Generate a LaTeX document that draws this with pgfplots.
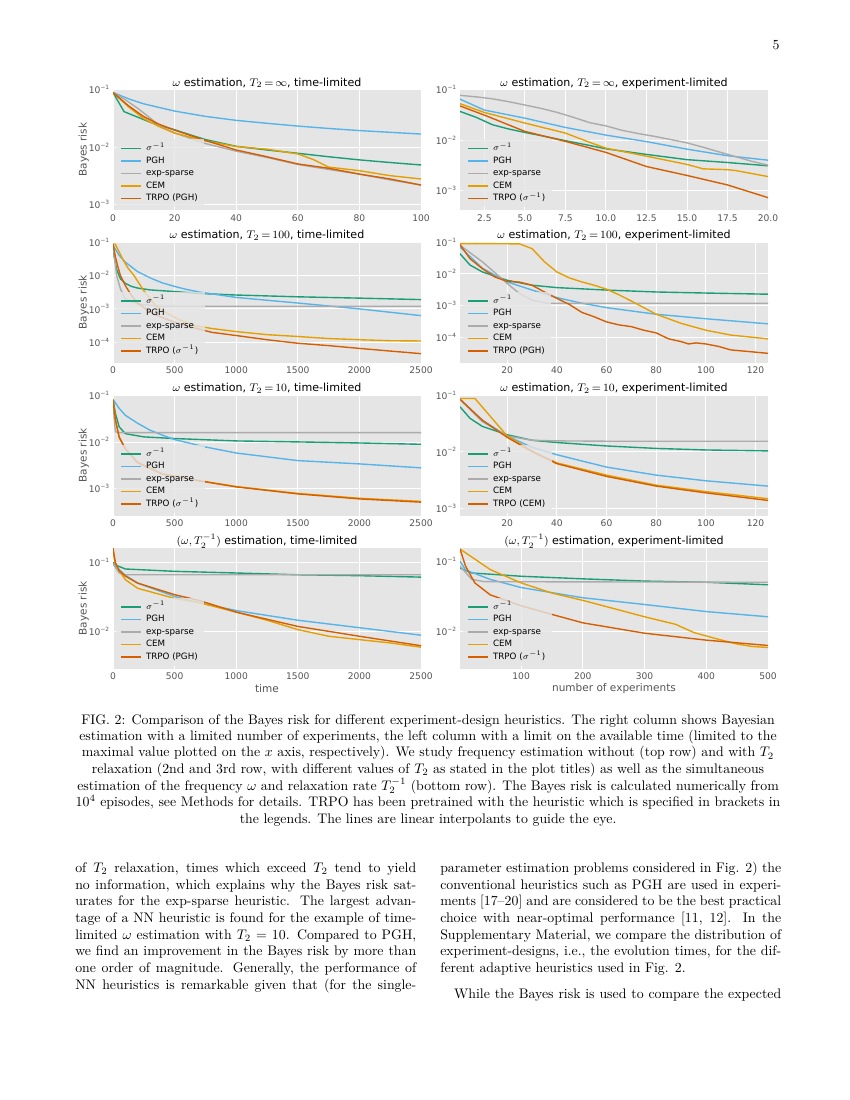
\documentclass[border=0pt]{standalone}
\usepackage{fontspec}
\usepackage{pgfplots}
\pgfplotsset{compat=1.18}
\newfontfamily\dejavu{DejaVu Sans}
\newcommand\tickfont{\dejavu\fontsize{6.6}{7.5}\selectfont}
\newcommand\legfont{\dejavu\fontsize{6.3}{7}\selectfont}
\newcommand\titlefont{\dejavu\fontsize{8}{9}\selectfont}
\newcommand\labfont{\dejavu\fontsize{7.6}{9}\selectfont}
\definecolor{ggbg}{HTML}{E5E5E5}
\definecolor{ticktext}{HTML}{555555}
\definecolor{sigc}{HTML}{1A9E76}
\definecolor{pghc}{HTML}{56B4E9}
\definecolor{expc}{HTML}{ABABAB}
\definecolor{cemc}{HTML}{E69F00}
\definecolor{trpoc}{HTML}{D55E00}
% tick label 10^-n in the sans font, with a small raised exponent
\newcommand\e[1]{10\raisebox{0.45em}{\fontsize{4.2}{5}\selectfont −#1}}
\pgfplotsset{
  gg/.style={
    scale only axis, width=221.76bp, height=86.76bp,
    anchor=north west,
    axis background/.style={fill=ggbg},
    axis line style={draw=none},
    major tick length=0pt, minor tick length=0pt,
    xmajorgrids, ymajorgrids,
    grid style={white, line width=0.6bp},
    tick label style={font=\tickfont, text=ticktext},
    xticklabel style={anchor=base, yshift=-8.2bp, inner sep=0pt},
    yticklabel style={anchor=east, xshift=-2.6bp, inner sep=0pt},
    title style={at={(0.5,1)}, anchor=base, yshift=-3.6bp, inner sep=0pt, font=\titlefont},
    label style={font=\labfont, text=ticktext},
    ylabel style={at={(axis description cs:-0.095,0.5)}, anchor=center},
    xlabel style={at={(axis description cs:0.5,-0.166)}, anchor=center},
    legend cell align=left,
    legend style={at={(0.01,0.017)}, anchor=south west, draw=none,
      fill=ggbg, fill opacity=0.8, text opacity=1, font=\legfont,
      inner xsep=3bp, inner ysep=2bp, row sep=0pt, column sep=1.5bp,
      nodes={inner sep=1.5bp, text height=4.6bp, text depth=1.4bp}},
    legend image code/.code={\draw[##1] (0bp,0bp) -- (14.4bp,0bp);},
    cycle list={{sigc},{pghc},{expc},{cemc},{trpoc}},
    every axis plot/.append style={mark=none, line width=1bp, line join=round},
  },
  tlim/.style={xmin=0, xmax=2500, xtick={0,500,1000,1500,2000,2500},
    xticklabels={0,500,1000,1500,2000,2500}},
  elim/.style={xmin=1, xmax=125, xtick={20,40,60,80,100,120},
    xticklabels={20,40,60,80,100,120}},
}
\begin{document}
\begin{tikzpicture}
\fill[white] (0,0) rectangle (612bp,-792bp);
\path[use as bounding box] (0,0) rectangle (612bp,-792bp);

% ---- row 1, left
\begin{semilogyaxis}[gg, at={(81.36bp,-64.3bp)},
  title={$\omega$ estimation, $T_2\,{=}\,\infty$, time-limited},
  ylabel={Bayes risk},
  xmin=0, xmax=100, ymin=8.2e-4, ymax=0.1,
  xtick={0,20,40,60,80,100}, xticklabels={0,20,40,60,80,100},
  ytick={1e-3,1e-2,1e-1}, yticklabels={\e{3},\e{2},\e{1}}]
\addplot coordinates {(0,0.088)(3.6,0.041)(8,0.033)(12,0.027)(16,0.023)(20,0.02)(25,0.0163)(30,0.0135)(40,0.0103)(50,0.0089)(60,0.0078)(70,0.0068)(80,0.006)(90,0.0054)(100,0.0049)};
\addplot coordinates {(0,0.088)(5.5,0.067)(10,0.056)(20,0.042)(30,0.034)(40,0.029)(50,0.0258)(60,0.0231)(70,0.021)(80,0.0193)(90,0.018)(100,0.0168)};
\addplot coordinates {(0,0.088)(4,0.066)(8,0.047)(12,0.032)(15,0.0236)(20,0.0176)(30,0.0115)(40,0.0085)(50,0.0066)(60,0.005)(70,0.0041)(80,0.0034)(90,0.0027)(100,0.0022)};
\addplot coordinates {(0,0.088)(5,0.05)(10,0.031)(15,0.0226)(20,0.0174)(30,0.0128)(40,0.0102)(50,0.0092)(60,0.0076)(65,0.0061)(70,0.0045)(80,0.0039)(90,0.0032)(100,0.0028)};
\addplot coordinates {(0,0.088)(5,0.052)(10,0.0336)(15,0.0248)(20,0.0196)(30,0.013)(40,0.0089)(50,0.0068)(60,0.0051)(70,0.0043)(80,0.0034)(90,0.0028)(100,0.0022)};
\legend{$\sigma^{-1}$, PGH, exp-sparse, CEM, TRPO (PGH)}
\end{semilogyaxis}

% ---- row 1, right
\begin{semilogyaxis}[gg, at={(331.2bp,-64.3bp)},
  title={$\omega$ estimation, $T_2\,{=}\,\infty$, experiment-limited},
  xmin=1, xmax=20, ymin=4.2e-4, ymax=0.1,
  xtick={2.5,5,7.5,10,12.5,15,17.5,20},
  xticklabels={2.5,5.0,7.5,10.0,12.5,15.0,17.5,20.0},
  ytick={1e-3,1e-2,1e-1}, yticklabels={\e{3},\e{2},\e{1}}]
\addplot coordinates {(1,0.0366)(2,0.028)(3,0.02)(4,0.0165)(5,0.0141)(6,0.0122)(7.5,0.0097)(9,0.0078)(10,0.0067)(12.5,0.0052)(15,0.0041)(17.5,0.0036)(20,0.0031)};
\addplot coordinates {(1,0.064)(2.5,0.039)(5,0.027)(7.5,0.0177)(10,0.0125)(12.5,0.0093)(15,0.0066)(17.5,0.0049)(20,0.004)};
\addplot coordinates {(1,0.076)(2,0.071)(3,0.065)(4,0.057)(5,0.049)(6,0.042)(7,0.035)(8,0.028)(9,0.022)(10,0.019)(11,0.0155)(12,0.0134)(13,0.0118)(14,0.0102)(15,0.0088)(16,0.0072)(17,0.0058)(18,0.0047)(19,0.0038)(20,0.0032)};
\addplot coordinates {(1,0.052)(2.5,0.035)(5,0.0216)(7.5,0.0137)(9,0.009)(10,0.0069)(12.5,0.0048)(15,0.0033)(16,0.0027)(17.5,0.0026)(18,0.0025)(20,0.0019)};
\addplot coordinates {(1,0.047)(2.5,0.031)(5,0.0148)(7.5,0.0094)(10,0.0057)(12.5,0.003)(15,0.002)(17.5,0.0013)(20,0.00073)};
\legend{$\sigma^{-1}$, PGH, exp-sparse, CEM, TRPO ($\sigma^{-1}$)}
\end{semilogyaxis}

% ---- row 2, left
\begin{semilogyaxis}[gg, tlim, at={(81.36bp,-174.24bp)},
  title={$\omega$ estimation, $T_2\,{=}\,100$, time-limited},
  ylabel={Bayes risk},
  ymin=2.5e-5, ymax=0.1,
  ytick={1e-4,1e-3,1e-2,1e-1}, yticklabels={\e{4},\e{3},\e{2},\e{1}}]
\addplot coordinates {(0,0.08)(10,0.035)(30,0.015)(60,0.008)(100,0.0058)(150,0.0047)(200,0.0042)(300,0.0037)(500,0.0033)(700,0.0029)(1000,0.0026)(1500,0.0023)(2000,0.0021)(2500,0.0019)};
\addplot coordinates {(0,0.08)(50,0.04)(100,0.025)(200,0.013)(300,0.0085)(400,0.006)(500,0.0047)(600,0.0038)(700,0.0032)(1000,0.0022)(1500,0.0015)(2000,0.001)(2500,0.00063)};
\addplot coordinates {(0,0.08)(30,0.01)(60,0.004)(100,0.002)(200,0.0014)(400,0.0012)(1000,0.0012)(2500,0.0012)};
\addplot coordinates {(15,0.09)(40,0.06)(80,0.03)(120,0.017)(170,0.01)(250,0.0035)(350,0.0012)(450,0.0007)(550,0.00045)(680,0.00031)(800,0.00026)(1000,0.00021)(1250,0.00017)(1500,0.00015)(1750,0.00013)(2000,0.00012)(2250,0.000112)(2500,0.00011)};
\addplot coordinates {(0,0.09)(20,0.035)(40,0.018)(60,0.01)(100,0.005)(150,0.0025)(200,0.0015)(300,0.0008)(400,0.00055)(500,0.0004)(680,0.00026)(800,0.0002)(1000,0.00016)(1250,0.00012)(1500,0.000094)(1750,0.00008)(2000,0.000066)(2250,0.000055)(2500,0.000046)};
\legend{$\sigma^{-1}$, PGH, exp-sparse, CEM, TRPO ($\sigma^{-1}$)}
\end{semilogyaxis}

% ---- row 2, right
\begin{semilogyaxis}[gg, elim, at={(331.2bp,-174.24bp)},
  title={$\omega$ estimation, $T_2\,{=}\,100$, experiment-limited},
  ymin=1.65e-5, ymax=0.1,
  ytick={1e-4,1e-3,1e-2,1e-1}, yticklabels={\e{4},\e{3},\e{2},\e{1}}]
\addplot coordinates {(1,0.043)(5,0.019)(10,0.0115)(20,0.0063)(30,0.0044)(40,0.0037)(60,0.0031)(80,0.0027)(100,0.0025)(125,0.0023)};
\addplot coordinates {(1,0.07)(10,0.015)(20,0.0056)(30,0.0031)(40,0.0018)(50,0.0012)(60,0.00087)(80,0.00054)(100,0.00039)(125,0.00027)};
\addplot coordinates {(1,0.079)(10,0.024)(20,0.005)(25,0.0024)(30,0.0015)(36,0.0012)(60,0.0012)(125,0.0012)};
\addplot coordinates {(1,0.089)(10,0.089)(20,0.088)(25,0.087)(30,0.062)(35,0.024)(40,0.0115)(45,0.0075)(50,0.0056)(55,0.0044)(60,0.0033)(65,0.0022)(70,0.0014)(80,0.00054)(90,0.00028)(100,0.00017)(110,0.00012)(125,0.000091)};
\addplot coordinates {(1,0.083)(5,0.03)(10,0.0146)(15,0.008)(20,0.0058)(25,0.0055)(30,0.0044)(35,0.0027)(40,0.0017)(45,0.0011)(50,0.00062)(55,0.00045)(60,0.00031)(65,0.00025)(70,0.00022)(75,0.00017)(80,0.00014)(85,0.000091)(90,0.000075)(93,0.000063)(96,0.000068)(100,0.000063)(105,0.000053)(110,0.000041)(118,0.000036)(125,0.000032)};
\legend{$\sigma^{-1}$, PGH, exp-sparse, CEM, TRPO (PGH)}
\end{semilogyaxis}

% ---- row 3, left
\begin{semilogyaxis}[gg, tlim, at={(81.36bp,-284.4bp)},
  title={$\omega$ estimation, $T_2\,{=}\,10$, time-limited},
  ylabel={Bayes risk},
  ymin=2.7e-4, ymax=0.1,
  ytick={1e-3,1e-2,1e-1}, yticklabels={\e{3},\e{2},\e{1}}]
\addplot coordinates {(0,0.08)(20,0.04)(50,0.021)(100,0.015)(250,0.0128)(500,0.0118)(1000,0.0105)(1500,0.01)(2000,0.0095)(2500,0.0089)};
\addplot coordinates {(0,0.08)(50,0.052)(100,0.037)(200,0.025)(300,0.0178)(400,0.014)(500,0.0112)(750,0.0078)(1000,0.0058)(1500,0.004)(2000,0.0034)(2500,0.0028)};
\addplot coordinates {(0,0.08)(10,0.03)(20,0.0165)(40,0.0158)(2500,0.0158)};
\addplot coordinates {(0,0.08)(20,0.029)(50,0.0128)(100,0.0072)(200,0.0037)(400,0.0021)(700,0.0015)(1000,0.00112)(1500,0.0008)(2000,0.00063)(2500,0.00054)};
\addplot coordinates {(0,0.08)(20,0.029)(50,0.0126)(100,0.0071)(200,0.0036)(400,0.00205)(700,0.00148)(1000,0.0011)(1500,0.00078)(2000,0.00061)(2500,0.00052)};
\legend{$\sigma^{-1}$, PGH, exp-sparse, CEM, TRPO ($\sigma^{-1}$)}
\end{semilogyaxis}

% ---- row 3, right
\begin{semilogyaxis}[gg, elim, at={(331.2bp,-284.4bp)},
  title={$\omega$ estimation, $T_2\,{=}\,10$, experiment-limited},
  ymin=7.6e-4, ymax=0.1,
  ytick={1e-3,1e-2,1e-1}, yticklabels={\e{3},\e{2},\e{1}}]
\addplot coordinates {(1,0.062)(5,0.039)(10,0.028)(20,0.02)(30,0.016)(40,0.0146)(60,0.0127)(80,0.0115)(100,0.0108)(125,0.0104)};
\addplot coordinates {(1,0.084)(10,0.036)(20,0.019)(30,0.012)(40,0.0089)(60,0.0054)(80,0.0039)(100,0.0031)(125,0.0025)};
\addplot coordinates {(1,0.084)(10,0.034)(20,0.019)(30,0.016)(40,0.0156)(60,0.0154)(125,0.0154)};
\addplot coordinates {(1,0.087)(7,0.087)(20,0.019)(30,0.0104)(40,0.0064)(60,0.0039)(80,0.0026)(100,0.002)(125,0.0015)};
\addplot coordinates {(1,0.084)(10,0.036)(20,0.018)(30,0.0101)(40,0.0062)(60,0.0037)(80,0.0025)(100,0.0019)(125,0.0014)};
\legend{$\sigma^{-1}$, PGH, exp-sparse, CEM, TRPO (CEM)}
\end{semilogyaxis}

% ---- row 4, left
\begin{semilogyaxis}[gg, tlim, at={(81.36bp,-394.56bp)},
  title={$(\omega, T_2^{-1})$ estimation, time-limited},
  ylabel={Bayes risk}, xlabel={time},
  ymin=2.9e-3, ymax=0.161,
  ytick={1e-2,1e-1}, yticklabels={\e{2},\e{1}}]
\addplot coordinates {(0,0.1)(10,0.093)(100,0.08)(500,0.074)(1000,0.07)(1500,0.066)(2000,0.064)(2500,0.061)};
\addplot coordinates {(0,0.095)(100,0.065)(200,0.05)(500,0.032)(700,0.026)(1000,0.02)(1500,0.0145)(2000,0.0113)(2500,0.0088)};
\addplot coordinates {(0,0.095)(50,0.07)(100,0.066)(2500,0.066)};
\addplot coordinates {(0,0.15)(15,0.1)(50,0.076)(100,0.056)(200,0.042)(500,0.03)(700,0.026)(1000,0.019)(1250,0.0145)(1500,0.0106)(1750,0.0085)(2000,0.0076)(2250,0.0068)(2500,0.0059)};
\addplot coordinates {(0,0.16)(20,0.098)(50,0.076)(100,0.063)(200,0.05)(500,0.034)(700,0.028)(1000,0.019)(1500,0.0118)(2000,0.0085)(2500,0.0062)};
\legend{$\sigma^{-1}$, PGH, exp-sparse, CEM, TRPO (PGH)}
\end{semilogyaxis}

% ---- row 4, right
\begin{semilogyaxis}[gg, at={(331.2bp,-394.56bp)},
  title={$(\omega, T_2^{-1})$ estimation, experiment-limited},
  xlabel={number of experiments},
  xmin=1, xmax=500, ymin=2.9e-3, ymax=0.155,
  xtick={100,200,300,400,500}, xticklabels={100,200,300,400,500},
  ytick={1e-2,1e-1}, yticklabels={\e{2},\e{1}}]
\addplot coordinates {(1,0.08)(20,0.068)(100,0.061)(200,0.056)(300,0.052)(400,0.05)(500,0.046)};
\addplot coordinates {(1,0.1)(10,0.075)(50,0.055)(100,0.042)(200,0.03)(300,0.024)(400,0.019)(500,0.016)};
\addplot coordinates {(1,0.085)(20,0.055)(40,0.051)(500,0.05)};
\addplot coordinates {(1,0.15)(50,0.076)(100,0.049)(150,0.035)(200,0.0275)(250,0.021)(300,0.016)(350,0.0125)(380,0.0095)(420,0.0076)(450,0.0065)(475,0.006)(500,0.0058)};
\addplot coordinates {(1,0.15)(10,0.085)(25,0.049)(50,0.033)(100,0.023)(150,0.0173)(200,0.0131)(300,0.0093)(400,0.0074)(500,0.0062)};
\legend{$\sigma^{-1}$, PGH, exp-sparse, CEM, TRPO ($\sigma^{-1}$)}
\end{semilogyaxis}

% ---- page text
\begin{scope}[every node/.style={inner sep=0pt}, font=\fontsize{10}{12}\selectfont]
\node[anchor=base] at (558.7bp,-35.3bp) {5};
\node[anchor=base] at (308.2bp,-521.3bp) {FIG. 2: Comparison of the Bayes risk for different experiment-design heuristics. The right column shows Bayesian};
\node[anchor=base] at (308.2bp,-533.2bp) {estimation with a limited number of experiments, the left column with a limit on the available time (limited to the};
\node[anchor=base] at (308.2bp,-545.0bp) {maximal value plotted on the $x$ axis, respectively). We study frequency estimation without (top row) and with $T_2$};
\node[anchor=base] at (308.2bp,-556.9bp) {relaxation (2nd and 3rd row, with different values of $T_2$ as stated in the plot titles) as well as the simultaneous};
\node[anchor=base] at (308.2bp,-568.8bp) {estimation of the frequency $\omega$ and relaxation rate $T_2^{-1}$ (bottom row). The Bayes risk is calculated numerically from};
\node[anchor=base] at (308.2bp,-580.7bp) {$10^4$ episodes, see Methods for details. TRPO has been pretrained with the heuristic which is specified in brackets in};
\node[anchor=base] at (308.2bp,-592.6bp) {the legends. The lines are linear interpolants to guide the eye.};
% left column
\node[anchor=base west] at (54bp,-628.2bp) {\makebox[245.5bp][s]{of $T_2$ relaxation, times which exceed $T_2$ tend to yield}};
\node[anchor=base west] at (54bp,-640.2bp) {\makebox[245.5bp][s]{no information, which explains why the Bayes risk sat-}};
\node[anchor=base west] at (54bp,-652.2bp) {\makebox[245.5bp][s]{urates for the exp-sparse heuristic. The largest advan-}};
\node[anchor=base west] at (54bp,-664.2bp) {\makebox[245.5bp][s]{tage of a NN heuristic is found for the example of time-}};
\node[anchor=base west] at (54bp,-676.2bp) {\makebox[245.5bp][s]{limited $\omega$ estimation with $T_2$ = 10. Compared to PGH,}};
\node[anchor=base west] at (54bp,-688.2bp) {\makebox[245.5bp][s]{we find an improvement in the Bayes risk by more than}};
\node[anchor=base west] at (54bp,-700.2bp) {\makebox[245.5bp][s]{one order of magnitude. Generally, the performance of}};
\node[anchor=base west] at (54bp,-712.2bp) {\makebox[245.5bp][s]{NN heuristics is remarkable given that (for the single-}};
% right column
\node[anchor=base west] at (316.8bp,-628.2bp) {\makebox[245.5bp][s]{parameter estimation problems considered in Fig. 2) the}};
\node[anchor=base west] at (316.8bp,-640.2bp) {\makebox[245.5bp][s]{conventional heuristics such as PGH are used in experi-}};
\node[anchor=base west] at (316.8bp,-652.2bp) {\makebox[245.5bp][s]{ments [17--20] and are considered to be the best practical}};
\node[anchor=base west] at (316.8bp,-664.2bp) {\makebox[245.5bp][s]{choice with near-optimal performance [11, 12]. In the}};
\node[anchor=base west] at (316.8bp,-676.2bp) {\makebox[245.5bp][s]{Supplementary Material, we compare the distribution of}};
\node[anchor=base west] at (316.8bp,-688.2bp) {\makebox[245.5bp][s]{experiment-designs, i.e., the evolution times, for the dif-}};
\node[anchor=base west] at (316.8bp,-700.2bp) {ferent adaptive heuristics used in Fig. 2.};
\node[anchor=base west] at (326.8bp,-718.9bp) {\makebox[235.5bp][s]{While the Bayes risk is used to compare the expected}};
\end{scope}
\end{tikzpicture}
\end{document}
